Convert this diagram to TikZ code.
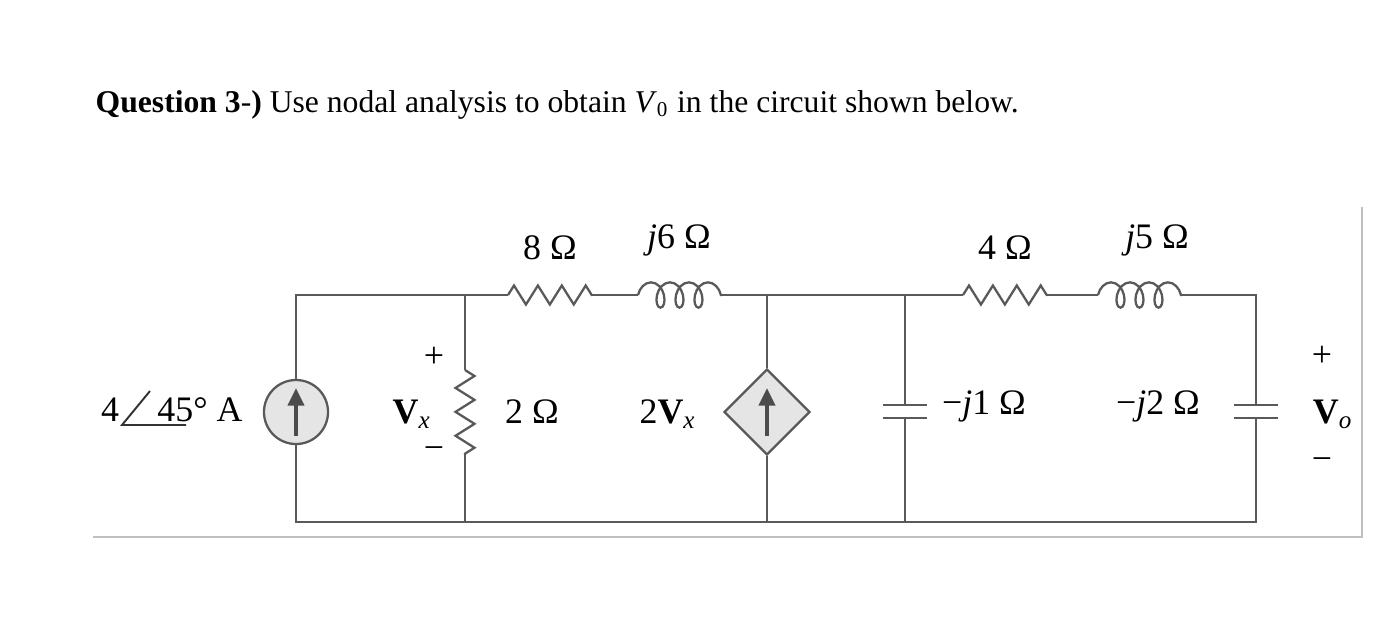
\documentclass[tikz,border=0pt]{standalone}
\usepackage{fontspec}
\setmainfont{Liberation Serif}
\usetikzlibrary{decorations.pathmorphing,arrows.meta,shapes.geometric}
\begin{document}
\begin{tikzpicture}[x=0.01cm,y=-0.01cm,
  wire/.style={draw=black!65,line width=0.65pt},
  res/.style={wire,decorate,decoration={zigzag,segment length=6.8pt,amplitude=2.7pt}},
  ind/.style={wire,decorate,decoration={coil,aspect=0.65,segment length=5.4pt,amplitude=3.6pt}},
  lbl/.style={font=\fontsize{10.2}{12}\selectfont,inner sep=0pt},
  src/.style={wire,fill=black!10},
  arr/.style={draw=black!70,line width=1.2pt,-{Triangle[length=5pt,width=4.5pt]}}]
\useasboundingbox (0,0) rectangle (1385,626);
\draw[black!25,line width=0.6pt] (93,537) -- (1362,537) -- (1362,207);
\node[anchor=west,inner sep=0pt,font=\fontsize{9}{11}\selectfont] (title) at (95,105) {\textbf{Question 3}-\textbf{)} Use nodal analysis to obtain \textit{V}\textsubscript{0} in the circuit shown below.};
% coordinates
\coordinate (tl) at (296,295); \coordinate (bl) at (296,522);
\coordinate (ta) at (465,295); \coordinate (ba) at (465,522);
\coordinate (tb) at (767,295); \coordinate (bb) at (767,522);
\coordinate (tc) at (905,295); \coordinate (bc) at (905,522);
\coordinate (tr) at (1256,295); \coordinate (br) at (1256,522);
\coordinate (r1a) at (508,295); \coordinate (r1b) at (592,295);
\coordinate (l1a) at (638,295); \coordinate (l1b) at (722,295);
\coordinate (r2a) at (963,295); \coordinate (r2b) at (1047,295);
\coordinate (l2a) at (1098,295); \coordinate (l2b) at (1182,295);
\coordinate (r3a) at (465,370); \coordinate (r3b) at (465,455);
\coordinate (c1a) at (905,405); \coordinate (c1b) at (905,418);
\coordinate (c2a) at (1256,405); \coordinate (c2b) at (1256,418);
\node[src,circle,minimum size=0.64cm,inner sep=0pt] (is) at (296,412) {};
\node[src,diamond,minimum size=0.86cm,inner sep=0pt] (ds) at (767,412) {};
\draw[arr] (296,436) -- (296,388);
\draw[arr] (767,436) -- (767,388);
% wires
\path[wire] (is.north) -- (tl) -- (r1a);
\path[res] (r1a) -- (r1b);
\path[wire] (r1b) -- (l1a);
\path[ind] (l1a) -- (l1b);
\path[wire] (l1b) -- (r2a);
\path[res] (r2a) -- (r2b);
\path[wire] (r2b) -- (l2a);
\path[ind] (l2a) -- (l2b);
\path[wire] (l2b) -- (tr) -- (c2a);
\path[wire] (c2b) -- (br) -- (bl) -- (is.south);
\path[wire] (ta) -- (r3a); \path[res] (r3a) -- (r3b); \path[wire] (r3b) -- (ba);
\path[wire] (tb) -- (ds.north); \path[wire] (ds.south) -- (bb);
\path[wire] (tc) -- (c1a); \path[wire] (c1b) -- (bc);
\path[wire] ([xshift=-6.3pt]c1a) -- ([xshift=6.3pt]c1a);
\path[wire] ([xshift=-6.3pt]c1b) -- ([xshift=6.3pt]c1b);
\path[wire] ([xshift=-6.3pt]c2a) -- ([xshift=6.3pt]c2a);
\path[wire] ([xshift=-6.3pt]c2b) -- ([xshift=6.3pt]c2b);
% labels
\node[lbl] (l8) at (550,248) {8 Ω};
\node[lbl] (lj6) at (679,240) {\textit{j}6 Ω};
\node[lbl] (l4) at (1005,248) {4 Ω};
\node[lbl] (lj5) at (1157,240) {\textit{j}5 Ω};
\node[lbl] (l2) at (532,412) {2 Ω};
\node[lbl] (lvx) at (412,414) {\textbf{V}\textsubscript{\textit{x}}};
\node[lbl] (lp1) at (434,357) {+};
\node[lbl] (lm1) at (434,453) {−};
\node[lbl] (l2vx) at (668,414) {2\textbf{V}\textsubscript{\textit{x}}};
\node[lbl] (lc1) at (984,406) {−\textit{j}1 Ω};
\node[lbl] (lc2) at (1158,406) {−\textit{j}2 Ω};
\node[lbl] (lvo) at (1333,414) {\textbf{V}\textsubscript{\textit{o}}};
\node[lbl] (lp2) at (1322,356) {+};
\node[lbl] (lm2) at (1322,464) {−};
\node[lbl] (l4a) at (110,410) {4};
\node[lbl] (l45) at (200,410) {45° A};
\draw[black!80,line width=0.55pt] (150,391) -- (122,425) -- (186,425);
\end{tikzpicture}
\end{document}
